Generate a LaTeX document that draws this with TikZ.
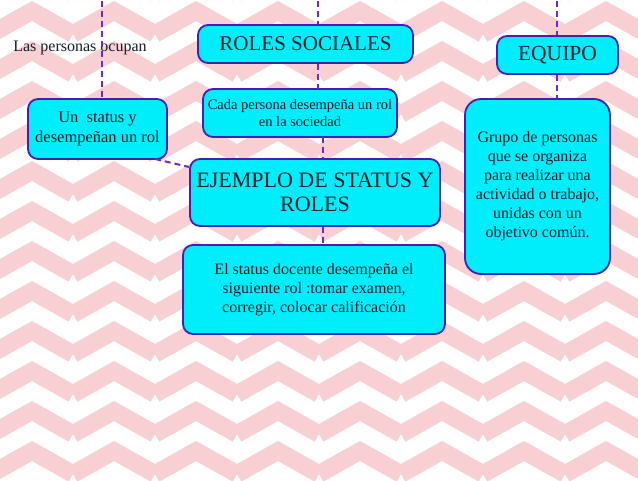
\documentclass[tikz,border=0pt]{standalone}
\usepackage{fontspec}
\setmainfont{Liberation Serif}
\newfontfamily\tmsf{Liberation Serif}
\begin{document}
\begin{tikzpicture}[x=1pt,y=-1pt,
 box/.style={draw=boxline,line width=1.8pt,fill=boxfill,rounded corners=10pt,inner sep=0pt,align=center,text=txt},
 link/.style={draw=linkc,line width=2pt,dash pattern=on 6pt off 4pt}]
\definecolor{pinkc}{RGB}{248,208,212}
\definecolor{boxfill}{RGB}{0,238,252}
\definecolor{boxline}{RGB}{70,30,180}
\definecolor{linkc}{RGB}{110,40,210}
\definecolor{txt}{RGB}{20,30,40}
\fill[white] (0,0) rectangle (638,479);
\begin{scope}
\clip (0,0) rectangle (638,479);
\foreach \k in {-1,...,12}{
  \draw[pinkc,line width=17.5pt,line join=miter]
   \foreach \i in {-1,...,8}{ (\i*82-9,\k*40+10+23) -- (\i*82+32,\k*40+10) -- (\i*82+73,\k*40+10+23)};
}
\end{scope}
\node[box,minimum width=215,minimum height=38,font=\tmsf\fontsize{21}{23}\selectfont] (rs) at (305.5,43) {ROLES SOCIALES};
\node[box,minimum width=194,minimum height=48,font=\tmsf\fontsize{14.5}{17}\selectfont] (cp) at (300,112) {Cada persona desempeña un rol\\en la sociedad};
\node[box,minimum width=250,minimum height=67,font=\tmsf\fontsize{22}{24}\selectfont] (ej) at (315,191.5) {EJEMPLO DE STATUS Y\\ROLES};
\node[box,minimum width=262,minimum height=89,font=\tmsf\fontsize{16}{19}\selectfont] (sd) at (314,288.5) {El status docente desempeña el\\siguiente rol :tomar examen,\\corregir, colocar calificación};
\node[box,minimum width=139,minimum height=60,font=\tmsf\fontsize{16.5}{20}\selectfont] (us) at (97.5,128) {Un \ status y\\desempeñan un rol};
\node[box,minimum width=121,minimum height=38,font=\tmsf\fontsize{21.5}{23}\selectfont] (eq) at (557.5,54) {EQUIPO};
\node[box,rounded corners=16pt,minimum width=145,minimum height=175,font=\tmsf\fontsize{16}{19}\selectfont] (gp) at (537.5,185.5) {Grupo de personas\\que se organiza\\para realizar una\\actividad o trabajo,\\unidas con un\\objetivo común.};
\node[font=\tmsf\fontsize{16}{18}\selectfont,text=txt] (lp) at (80,47) {Las personas ocupan};
\coordinate (t1) at (318,0);
\coordinate (t2) at (102,0);
\coordinate (t3) at (557,0);
\draw[link] (t1) -- (rs.north -| t1);
\draw[link] (rs.south -| t1) -- (318,88);
\draw[link] (323,136) -- (ej.north -| 323,0);
\draw[link] (ej.south -| 323,0) -- (sd.north -| 323,0);
\draw[link] (t2) -- (us.north -| t2);
\draw[link] (155,158) -- (ej.west |- 0,166);
\draw[link] (t3) -- (eq.north -| t3);
\draw[link] (eq.south -| t3) -- (gp.north -| t3);
\end{tikzpicture}
\end{document}
